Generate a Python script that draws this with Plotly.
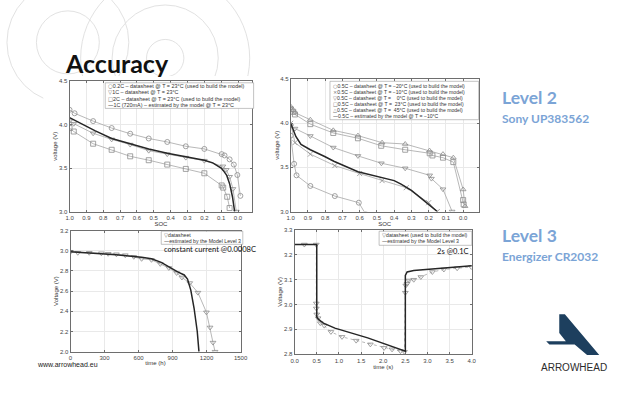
import plotly.graph_objects as go

W, H = 638, 399

# ---------------- data ----------------
# Top-left: Sony UP383562, discharge vs SOC at 23 C
tl_soc_02c = [1.0, 0.97, 0.86, 0.75, 0.64, 0.53, 0.42, 0.31, 0.20, 0.097, 0.08, 0.05, 0.025, 0.004, -0.014]
tl_v_02c = [4.17, 4.13, 4.04, 3.96, 3.895, 3.84, 3.80, 3.75, 3.72, 3.66, 3.645, 3.60, 3.54, 3.42, 3.18]
tl_soc_1c = [1.0, 0.975, 0.86, 0.75, 0.64, 0.53, 0.42, 0.31, 0.20, 0.09, 0.07, 0.05, 0.03, 0.01]
tl_v_1c = [4.04, 4.01, 3.90, 3.83, 3.77, 3.70, 3.66, 3.62, 3.585, 3.52, 3.48, 3.40, 3.26, 3.00]
tl_soc_2c = [1.0, 0.975, 0.86, 0.75, 0.64, 0.53, 0.42, 0.31, 0.20, 0.097, 0.088, 0.064, 0.05]
tl_v_2c = [3.96, 3.92, 3.78, 3.71, 3.635, 3.59, 3.54, 3.49, 3.44, 3.30, 3.275, 3.17, 3.04]
tl_soc_model = [1.0, 0.95, 0.90, 0.85, 0.75, 0.64, 0.53, 0.42, 0.31, 0.20, 0.15, 0.126, 0.10, 0.087, 0.068, 0.05, 0.04, 0.033, 0.02]
tl_v_model = [4.08, 4.03, 3.98, 3.93, 3.84, 3.78, 3.72, 3.67, 3.63, 3.59, 3.56, 3.53, 3.50, 3.47, 3.42, 3.32, 3.25, 3.17, 3.00]

# Top-right: 0.5C at several temperatures
tr_soc_m20 = [1.0, 0.98, 0.966, 0.886, 0.744, 0.605, 0.565]
tr_v_m20 = [3.86, 3.54, 3.41, 3.29, 3.175, 3.10, 2.97]
tr_soc_m10 = [1.0, 0.975, 0.886, 0.744, 0.60, 0.47, 0.33, 0.20, 0.15]
tr_v_m10 = [4.00, 3.78, 3.65, 3.52, 3.43, 3.35, 3.27, 3.10, 3.00]
tr_soc_0 = [1.0, 0.975, 0.886, 0.753, 0.61, 0.474, 0.336, 0.194, 0.184, 0.117, 0.064]
tr_v_0 = [3.97, 3.94, 3.856, 3.725, 3.63, 3.547, 3.49, 3.41, 3.373, 3.253, 3.00]
tr_soc_23 = [1.0, 0.985, 0.975, 0.886, 0.753, 0.61, 0.475, 0.336, 0.194, 0.178, 0.117, 0.057, 0.0, -0.003]
tr_v_23 = [4.16, 4.13, 4.10, 3.99, 3.89, 3.83, 3.745, 3.70, 3.66, 3.635, 3.61, 3.56, 3.13, 3.08]
tr_soc_45 = [1.0, 0.985, 0.975, 0.886, 0.753, 0.61, 0.47, 0.336, 0.195, 0.117, 0.057, 0.0, -0.011]
tr_v_45 = [4.19, 4.15, 4.12, 4.04, 3.92, 3.86, 3.78, 3.765, 3.69, 3.65, 3.61, 3.25, 3.06]
tr_soc_model = [1.0, 0.99, 0.97, 0.94, 0.886, 0.80, 0.75, 0.61, 0.47, 0.40, 0.36, 0.30, 0.25, 0.20, 0.165, 0.15]
tr_v_model = [4.00, 3.95, 3.85, 3.76, 3.70, 3.62, 3.57, 3.45, 3.38, 3.35, 3.31, 3.24, 3.16, 3.08, 3.02, 3.00]

# Bottom-left: Energizer CR2032, constant current
bl_t_ds = [0, 64, 165, 272, 332, 405, 483, 558, 627, 714, 792, 867, 936, 983, 1052, 1124, 1199, 1231, 1257, 1275]
bl_v_ds = [2.99, 2.98, 2.98, 2.975, 2.97, 2.965, 2.956, 2.94, 2.92, 2.91, 2.87, 2.83, 2.78, 2.735, 2.68, 2.585, 2.39, 2.24, 2.09, 2.00]
bl_t_model = [0, 200, 400, 627, 714, 800, 873, 945, 1003, 1032, 1061, 1090, 1118, 1133]
bl_v_model = [2.99, 2.975, 2.96, 2.935, 2.92, 2.885, 2.835, 2.79, 2.76, 2.72, 2.61, 2.43, 2.20, 2.00]

# Bottom-right: 2 s pulse @0.1C
br_t_ds = [0.22, 0.49, 0.49, 0.49, 0.50, 0.53, 0.58, 0.67, 0.82, 1.07, 1.39, 1.71, 2.02, 2.20, 2.39, 2.48,
           2.50, 2.51, 2.54, 2.58, 2.69, 2.85, 3.11, 3.37, 3.67, 3.99]
br_v_ds = [3.24, 3.24, 3.004, 2.984, 2.96, 2.945, 2.925, 2.915, 2.89, 2.87, 2.855, 2.84, 2.826, 2.82, 2.813, 2.81,
           3.047, 3.076, 3.083, 3.096, 3.099, 3.11, 3.13, 3.14, 3.145, 3.15]
br_t_model = [0, 0.5, 0.5, 0.54, 0.65, 0.91, 1.65, 2.39, 2.49, 2.5, 2.5, 2.54, 2.69, 3.13, 4.0]
br_v_model = [3.24, 3.24, 2.95, 2.94, 2.925, 2.905, 2.866, 2.82, 2.813, 2.813, 3.116, 3.13, 3.136, 3.142, 3.155]

soc_ticks = [1.0, 0.9, 0.8, 0.7, 0.6, 0.5, 0.4, 0.3, 0.2, 0.1, 0.0]
soc_tick_labels = ["1.0", "0.9", "0.8", "0.7", "0.6", "0.5", "0.4", "0.3", "0.2", "0.1", "0.0"]
tl_legend = ["0.2C \u2013 datasheet @ T = 23\u00b0C (used to build the model)",
             "1C \u2013 datasheet @ T = 23\u00b0C",
             "2C \u2013 datasheet @ T = 23\u00b0C (used to build the model)",
             "1C (720mA) \u2013 estimated by the model @ T = 23\u00b0C"]
tr_legend = ["0.5C \u2013 datasheet @ T = \u221220\u00b0C (used to build the model)",
             "0.5C \u2013 datasheet @ T = \u221210\u00b0C (used to build the model)",
             "0.5C \u2013 datasheet @ T =    0\u00b0C (used to build the model)",
             "0.5C \u2013 datasheet @ T =  23\u00b0C (used to build the model)",
             "0.5C \u2013 datasheet @ T =  45\u00b0C (used to build the model)",
             "0.5C \u2013 estimated by the model @ T = \u221210\u00b0C"]
bl_legend = ["datasheet", "estimated by the Model Level 3"]
br_legend = ["datasheet (used to build the model)", "estimated by the Model Level 3"]

# ---------------- styling ----------------
GRAY = "#8c8c8c"
DARK = "#262626"
FONT = "Liberation Sans"


def px(x, y):
    return x / W, 1 - y / H


fig = go.Figure()


def ds(x, y, sym, xa, ya, dash="solid"):
    fig.add_trace(go.Scatter(x=x, y=y, xaxis=xa, yaxis=ya, mode="lines+markers",
                             line=dict(color="#a6a6a6", width=0.8, dash=dash),
                             marker=dict(symbol=sym, size=5, color=GRAY, line=dict(color=GRAY, width=0.8)),
                             cliponaxis=True, showlegend=False))


def model(x, y, xa, ya):
    fig.add_trace(go.Scatter(x=x, y=y, xaxis=xa, yaxis=ya, mode="lines",
                             line=dict(color=DARK, width=1.5), showlegend=False))


ds(tl_soc_02c, tl_v_02c, "circle-open", "x", "y")
ds(tl_soc_1c, tl_v_1c, "triangle-down-open", "x", "y")
ds(tl_soc_2c, tl_v_2c, "square-open", "x", "y")
model(tl_soc_model, tl_v_model, "x", "y")

ds(tr_soc_m20, tr_v_m20, "circle-open", "x2", "y2")
ds(tr_soc_m10, tr_v_m10, "x-thin-open", "x2", "y2")
ds(tr_soc_0, tr_v_0, "triangle-down-open", "x2", "y2")
ds(tr_soc_23, tr_v_23, "square-open", "x2", "y2")
ds(tr_soc_45, tr_v_45, "triangle-up-open", "x2", "y2")
model(tr_soc_model, tr_v_model, "x2", "y2")

ds(bl_t_ds, bl_v_ds, "triangle-down-open", "x3", "y3")
model(bl_t_model, bl_v_model, "x3", "y3")

ds(br_t_ds, br_v_ds, "triangle-down-open", "x4", "y4", dash="dot")
model(br_t_model, br_v_model, "x4", "y4")


def axis(domain, rng, title, **kw):
    d = dict(domain=domain, range=rng, showline=True, linecolor="#6e6e6e", linewidth=1, mirror="ticks",
             ticks="inside", ticklen=2, tickcolor="#6e6e6e", showgrid=True, gridcolor="#e9e9e9",
             gridwidth=1, zeroline=False, tickfont=dict(family=FONT, size=6, color="#444"),
             title=dict(text=title, font=dict(family=FONT, size=6, color="#333"), standoff=0),
             fixedrange=True)
    d.update(kw)
    return d


def xd(a, b):
    return [a / W, b / W]


def yd(top, bottom):
    return [1 - bottom / H, 1 - top / H]


fig.update_layout(
    width=W, height=H, margin=dict(l=0, r=0, t=0, b=0),
    paper_bgcolor="white", plot_bgcolor="white", showlegend=False,
    xaxis=axis(xd(66.7, 252.7), [1.0, -0.085], "SOC", anchor="y", tickvals=soc_ticks, ticktext=soc_tick_labels),
    yaxis=axis(yd(79.3, 211.7), [3.0, 4.5], "voltage (V)", anchor="x", dtick=0.5, tick0=3.0, tickformat=".1f"),
    xaxis2=axis(xd(291.7, 483.0), [1.0, -0.09], "SOC", anchor="y2", tickvals=soc_ticks, ticktext=soc_tick_labels),
    yaxis2=axis(yd(77.3, 211.7), [3.0, 4.5], "voltage (V)", anchor="x2", dtick=0.5, tick0=3.0, tickformat=".1f"),
    xaxis3=axis(xd(67.7, 240.7), [0, 1500], "time (h)", anchor="y3", dtick=300, tick0=0),
    yaxis3=axis(yd(231.0, 354.0), [2.0, 3.2], "Voltage (V)", anchor="x3", dtick=0.2, tick0=2.0, tickformat=".1f"),
    xaxis4=axis(xd(295.7, 476.0), [0, 4.0], "time (s)", anchor="y4", dtick=0.5, tick0=0, tickformat=".1f"),
    yaxis4=axis(yd(230.0, 356.7), [2.8, 3.3], "Voltage (V)", anchor="x4", dtick=0.1, tick0=2.8, tickformat=".1f"),
)

shapes = []
# faint background circles (slide decoration)
for cx, cy, r in [(65, 40, 32), (65, 40, 62), (164, 56, 19), (164, 56, 54), (164, 56, 86)]:
    x0, y0 = px(cx - r, cy - r)
    x1, y1 = px(cx + r, cy + r)
    shapes.append(dict(type="circle", xref="paper", yref="paper", x0=x0, x1=x1, y0=y1, y1=y0,
                       line=dict(color="#e2e2e2", width=1), layer="below"))
# white chart image backgrounds covering the circles
for (a, t, b, btm) in [(40, 74, 262, 224), (262, 74, 492, 224), (20, 224, 262, 362), (262, 224, 492, 362)]:
    x0, y0 = px(a, t)
    x1, y1 = px(b, btm)
    shapes.append(dict(type="rect", xref="paper", yref="paper", x0=x0, x1=x1, y0=y1, y1=y0,
                       line=dict(width=0), fillcolor="white", layer="below"))

annotations = []


def legend_rows(box, symbols, ys, labels, size=5.3):
    left, top, right, bottom = box
    x0, y0 = px(left, top)
    x1, y1 = px(right, bottom)
    shapes.append(dict(type="rect", xref="paper", yref="paper", x0=x0, x1=x1, y0=y1, y1=y0,
                       line=dict(color="#9a9a9a", width=0.6), fillcolor="white", layer="above"))
    for (sym, col), yy, lab in zip(symbols, ys, labels):
        ax, ay = px(left + 1, yy)
        annotations.append(dict(xref="paper", yref="paper", x=ax, y=ay, xanchor="left", yanchor="middle",
                                showarrow=False, align="left",
                                text=f"<span style='font-family:DejaVu Sans;color:{col}'>{sym}</span>{lab}",
                                font=dict(family=FONT, size=size, color="#333")))


legend_rows((103, 81, 254, 107), [("\u25cb", "#777"), ("\u25bd", "#777"), ("\u25a1", "#777"), ("\u2014", DARK)],
            [84.5, 90.8, 97.0, 103.3], tl_legend, size=5.4)
legend_rows((331.7, 79.5, 483, 118.5), [("\u25cb", "#777"), ("\u00d7", "#777"), ("\u25bd", "#777"), ("\u25a1", "#777"),
                                        ("\u25b3", "#777"), ("\u2014", DARK)],
            [84.0, 90.2, 96.4, 102.6, 108.8, 115.0], tr_legend, size=5.1)
legend_rows((160, 231.7, 243, 245), [("\u25bd", "#777"), ("\u2014", DARK)], [235.2, 241.2], bl_legend, size=5.2)
legend_rows((381.7, 231.7, 476, 246), [("\u25bd", "#777"), ("\u2014", DARK)], [235.2, 241.4], br_legend, size=5.2)


def text(x, y, s, size, color, family="Lato", xanchor="left", bold=False):
    ax, ay = px(x, y)
    annotations.append(dict(xref="paper", yref="paper", x=ax, y=ay, xanchor=xanchor, yanchor="middle",
                            showarrow=False, text=f"<b>{s}</b>" if bold else s,
                            font=dict(family=family, size=size, color=color)))


BLUE = "#7ba4d6"
text(60, 61, "Accuracy", 25, "#111", bold=True)
text(505, 95.5, "Level 2", 17.5, BLUE, bold=True)
text(505, 117, "Sony UP383562", 12, BLUE, bold=True)
text(505, 236.5, "Level 3", 17.5, BLUE, bold=True)
text(505, 257, "Energizer CR2032", 12, BLUE, bold=True)
text(161, 249.5, "constant current @0.0008C", 7.6, "#111")
text(475, 252, "2s @0.1C", 7.6, "#111", xanchor="right")
text(32, 367, "www.arrowhead.eu", 7, "#222", family=FONT)
text(580, 370, "ARROWHEAD", 10, "#2b2b2b", family=FONT, xanchor="center")

# Arrowhead logo
logo_pts = [(565, 316), (570.7, 316), (605.7, 357.3), (593.3, 357.3), (580.7, 346.7), (555, 346.7),
            (551.7, 343.3), (571.7, 343.3), (565, 335)]
path = ""
for i, (lx, ly) in enumerate(logo_pts):
    qx, qy = px(lx, ly)
    path += ("M" if i == 0 else "L") + f"{qx:.5f},{qy:.5f} "
path += "Z"
shapes.append(dict(type="path", xref="paper", yref="paper", path=path,
                   fillcolor="#1d3f5e", line=dict(width=0), layer="above"))

fig.update_layout(shapes=shapes, annotations=annotations)
fig.write_html("out.html", config={"displayModeBar": False},
               post_script="document.body.style.margin='0';document.body.style.padding='0';")
